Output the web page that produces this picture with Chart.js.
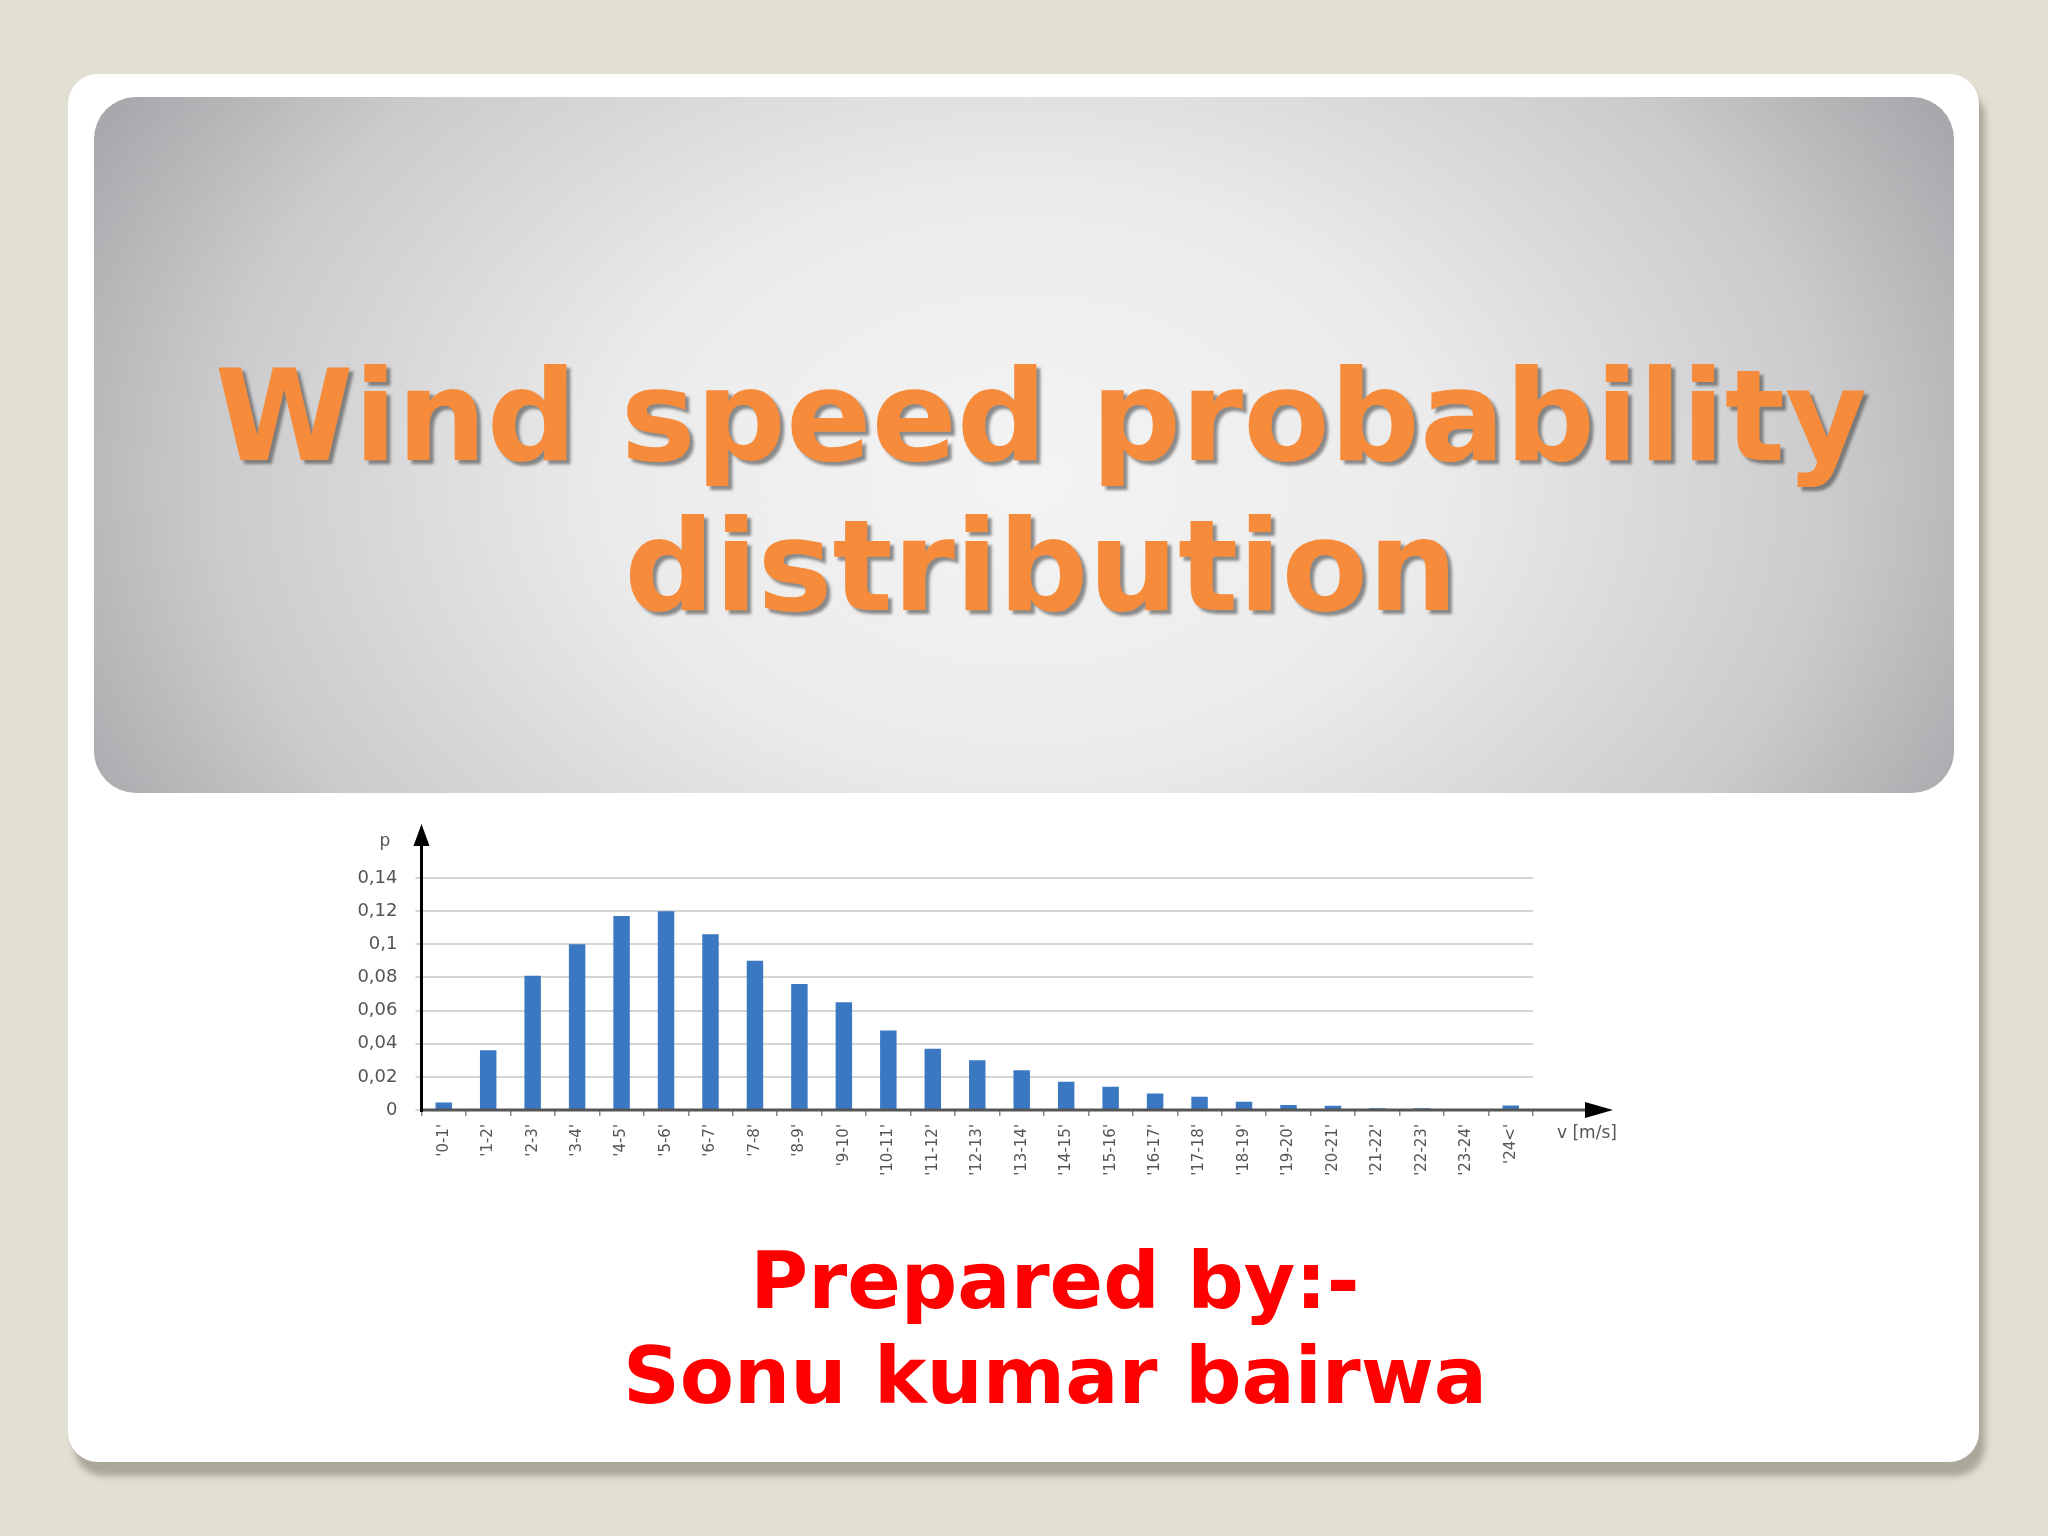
<!DOCTYPE html>
<html>
<head>
<meta charset="utf-8">
<script src="https://cdn.jsdelivr.net/npm/chart.js@4.4.0/dist/chart.umd.min.js"></script>
<style>
    html, body { margin: 0; padding: 0; }
    body {
        width: 2048px; height: 1536px; overflow: hidden; position: relative;
        background: #e2dfd3; font-family: "DejaVu Sans", Verdana, sans-serif;
    }
    .card {
        position: absolute; left: 68px; top: 74px; width: 1911px; height: 1388px;
        background: #ffffff; border-radius: 30px;
        box-shadow: 6px 14px 6px rgba(125, 120, 105, 0.55);
    }
    .header {
        position: absolute; left: 94px; top: 97px; width: 1860px; height: 696px;
        border-radius: 42px;
        background: radial-gradient(ellipse 58% 110% at 50% 55%, #f4f4f4 0%, #ebebec 38%, #cbcbcd 75%, #a4a3a7 100%);
    }
    .title {
        position: absolute; left: 41px; top: 342px; width: 2000px; text-align: center;
        font-weight: bold; font-size: 126px; line-height: 150px; color: #f68c3b;
        text-shadow: 4px 4px 3px rgba(70, 70, 70, 0.6);
    }
    .author {
        position: absolute; left: 55px; top: 1234px; width: 2000px; text-align: center;
        font-weight: bold; font-size: 79px; line-height: 95px; color: #ff0000;
    }
    .chart-box { position: absolute; left: 300px; top: 800px; width: 1400px; height: 400px; }
</style>
</head>
<body>
<div class="card"></div>
<div class="header"></div>
<div class="title">Wind speed probability<br>distribution</div>
<div class="chart-box"><canvas id="windChart"></canvas></div>
<div class="author">Prepared by:-<br>Sonu kumar bairwa</div>

<script>
// wind speed classes and probabilities
const speedClasses = ["'0-1'", "'1-2'", "'2-3'", "'3-4'", "'4-5'", "'5-6'", "'6-7'", "'7-8'", "'8-9'", "'9-10'",
    "'10-11'", "'11-12'", "'12-13'", "'13-14'", "'14-15'", "'15-16'", "'16-17'", "'17-18'", "'18-19'", "'19-20'",
    "'20-21'", "'21-22'", "'22-23'", "'23-24'", "'24<'"];
const probabilities = [0.0045, 0.036, 0.081, 0.100, 0.117, 0.120, 0.106, 0.090, 0.076, 0.065,
    0.048, 0.037, 0.030, 0.024, 0.017, 0.014, 0.010, 0.008, 0.005, 0.003,
    0.0025, 0.001, 0.001, 0.0005, 0.0027];
const yMax = 0.14;
const yStep = 0.02;
const yAxisName = 'p';
const xAxisName = 'v [m/s]';

Chart.defaults.font.family = '"DejaVu Sans", Verdana, sans-serif';

// arrows on both axes plus the axis names
const axisArrows = {
    id: 'axisArrows',
    afterDraw(chart) {
        const ctx = chart.ctx;
        const area = chart.chartArea;
        const y0 = chart.scales.y.getPixelForValue(0);
        ctx.save();

        // x axis
        ctx.strokeStyle = '#555555';
        ctx.lineWidth = 3;
        ctx.beginPath();
        ctx.moveTo(area.left, y0);
        ctx.lineTo(1290, y0);
        ctx.stroke();
        ctx.fillStyle = '#000000';
        ctx.beginPath();
        ctx.moveTo(1313, y0);
        ctx.lineTo(1285, y0 - 8);
        ctx.lineTo(1285, y0 + 8);
        ctx.closePath();
        ctx.fill();

        // y axis
        ctx.strokeStyle = '#000000';
        ctx.beginPath();
        ctx.moveTo(area.left, y0 + 2);
        ctx.lineTo(area.left, 40);
        ctx.stroke();
        ctx.beginPath();
        ctx.moveTo(area.left, 24);
        ctx.lineTo(area.left - 8, 46);
        ctx.lineTo(area.left + 8, 46);
        ctx.closePath();
        ctx.fill();

        ctx.fillStyle = '#555555';
        ctx.font = '17px "DejaVu Sans", Verdana, sans-serif';
        ctx.textBaseline = 'middle';
        ctx.textAlign = 'center';
        ctx.fillText(yAxisName, 85, 42);
        ctx.textAlign = 'left';
        ctx.fillText(xAxisName, 1257, 334);
        ctx.restore();
    }
};

new Chart(document.getElementById('windChart'), {
    type: 'bar',
    data: {
        labels: speedClasses,
        datasets: [{
            label: 'p',
            data: probabilities,
            backgroundColor: '#3a78c2',
            barPercentage: 0.37,
            categoryPercentage: 1.0
        }]
    },
    options: {
        responsive: true,
        maintainAspectRatio: false,
        animation: false,
        layout: {
            padding: { left: 0, top: 78, right: 167, bottom: 0 }
        },
        scales: {
            y: {
                min: 0,
                max: yMax,
                afterFit: function(scale) { scale.width = 121.5; },
                border: { display: false },
                grid: { color: '#d4d4d4', lineWidth: 2, tickLength: 6 },
                ticks: {
                    stepSize: yStep,
                    padding: 18,
                    color: '#555555',
                    font: { size: 18 },
                    callback: function(value) {
                        return (Math.round(value * 100) / 100).toString().replace('.', ',');
                    }
                }
            },
            x: {
                afterFit: function(scale) { scale.height = 90; },
                border: { display: false },
                grid: { drawOnChartArea: false, color: '#8a8a8a', lineWidth: 1.5, tickLength: 6 },
                ticks: {
                    autoSkip: false,
                    minRotation: 90,
                    maxRotation: 90,
                    padding: 8,
                    color: '#555555',
                    font: { size: 15 }
                }
            }
        },
        plugins: {
            legend: { display: false },
            tooltip: { enabled: false }
        }
    },
    plugins: [axisArrows]
});
</script>
</body>
</html>
